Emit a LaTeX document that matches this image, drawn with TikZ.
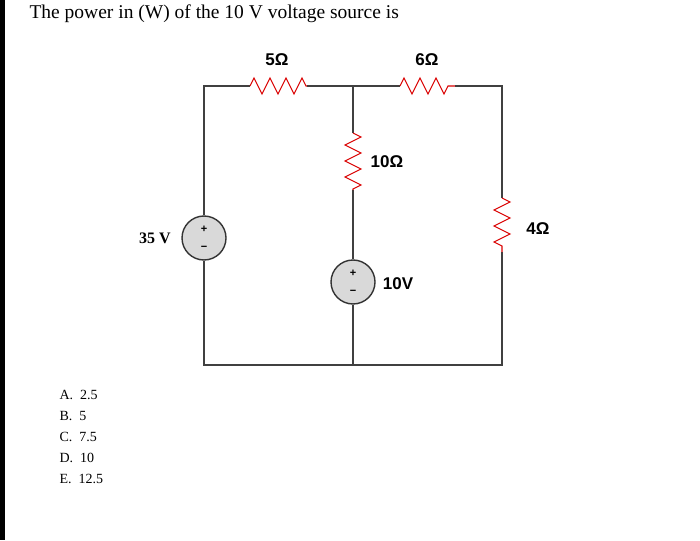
\documentclass[tikz,border=0pt]{standalone}
\usepackage{fontspec}
\setmainfont{Liberation Serif}
\newfontfamily\arialf{Liberation Sans}
\usetikzlibrary{decorations.pathmorphing}
\begin{document}
\begin{tikzpicture}[x=1pt,y=-1pt,
  wire/.style={line width=1.6pt,draw=black!75},
  res/.style={draw=red!85!black,line width=1.1pt,decorate,decoration={zigzag,segment length=16,amplitude=8}},
  src/.style={circle,draw=black!80,line width=1.4pt,fill=black!15,minimum size=44pt,inner sep=0pt},
  lab/.style={font=\arialf\bfseries\fontsize{17}{19}\selectfont},
  opt/.style={anchor=west,font=\fontsize{14}{16}\selectfont}]
\useasboundingbox (0,0) rectangle (700,540);
\fill[black] (0,0) rectangle (5,540);
\node[anchor=west,font=\fontsize{19.5}{22}\selectfont] (title) at (26,14) {The power in (W) of the 10 V voltage source is};
\coordinate (tl) at (204,86); \coordinate (tm) at (353,86); \coordinate (tr) at (502,86);
\coordinate (bl) at (204,365); \coordinate (bm) at (353,365); \coordinate (br) at (502,365);
\coordinate (r5a) at (250,86); \coordinate (r5b) at (307,86);
\coordinate (r6a) at (400,86); \coordinate (r6b) at (455,86);
\coordinate (r10a) at (353,133); \coordinate (r10b) at (353,190);
\coordinate (r4a) at (502,198); \coordinate (r4b) at (502,252);
\node[src] (v35) at (204,238) {};
\node[src] (v10) at (353,282) {};
\draw[wire] (v35.north) -- (tl) -- (r5a);
\draw[wire] (r5b) -- (r6a);
\draw[wire] (r6b) -- (tr) -- (r4a);
\draw[wire] (r4b) -- (br) -- (bl) -- (v35.south);
\draw[wire] (tm) -- (r10a);
\draw[wire] (r10b) -- (v10.north);
\draw[wire] (v10.south) -- (bm);
\draw[res] (r5a) -- (r5b);
\draw[res] (r6a) -- (r6b);
\draw[res] (r10a) -- (r10b);
\draw[res] (r4a) -- (r4b);
\foreach \s in {v35,v10}{
  \node[font=\arialf\bfseries\fontsize{11}{11}\selectfont] at ([yshift=9]\s.center) {+};
  \node[font=\arialf\bfseries\fontsize{11}{11}\selectfont] at ([yshift=-10]\s.center) {\textminus};
}
\node[lab] (l5) at (277,60) {5Ω};
\node[lab] (l6) at (427,60) {6Ω};
\node[lab] (l10) at (387,162) {10Ω};
\node[lab] (l4) at (538,229) {4Ω};
\node[lab] (l10v) at (398,284) {10V};
\node[font=\bfseries\fontsize{16}{18}\selectfont] (l35) at (155,238) {35 V};
\node[opt] (a) at (56,395) {A.\ \ 2.5};
\node[opt] (b) at (56,416) {B.\ \ 5};
\node[opt] (c) at (56,437) {C.\ \ 7.5};
\node[opt] (d) at (56,458) {D.\ \ 10};
\node[opt] (e) at (56,479) {E.\ \ 12.5};
\end{tikzpicture}
\end{document}
